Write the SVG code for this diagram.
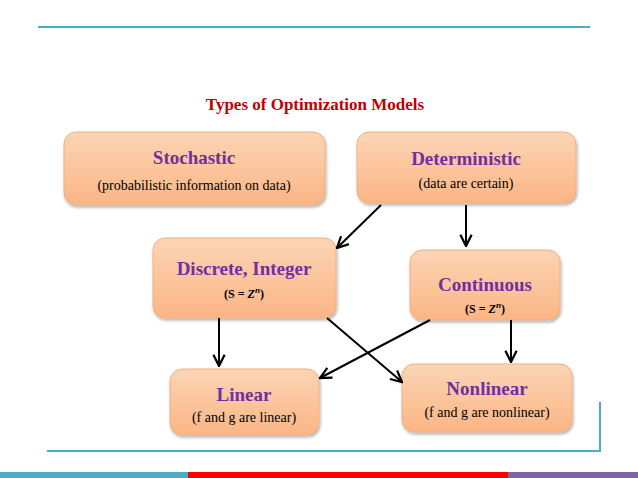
<svg xmlns="http://www.w3.org/2000/svg" width="638" height="478" viewBox="0 0 638 478">
<defs>
<linearGradient id="g" x1="0" y1="0" x2="0" y2="1"><stop offset="0" stop-color="#fcd5b5"/><stop offset="1" stop-color="#fbb585"/></linearGradient>
<marker id="a" viewBox="0 0 10 10" refX="9" refY="5" markerWidth="7" markerHeight="7" orient="auto"><path d="M1,1 L9,5 L1,9" fill="none" stroke="#000" stroke-width="1.6"/></marker>
<filter id="s" x="-10%" y="-10%" width="130%" height="130%"><feDropShadow dx="1" dy="2" stdDeviation="1.5" flood-opacity="0.3"/></filter>
</defs>
<style>
.b{fill:url(#g);stroke:#f0b080;stroke-width:1;filter:url(#s)}
.t{font-family:"Liberation Serif",serif;font-weight:bold;fill:#7030a0;font-size:19px;text-anchor:middle}
.s{font-family:"Liberation Serif",serif;fill:#000;font-size:14px;text-anchor:middle}
.sb{font-family:"Liberation Serif",serif;font-weight:bold;fill:#000;font-size:12px;text-anchor:middle}
.c line{stroke:#000;stroke-width:2;marker-end:url(#a)}
</style>
<rect width="638" height="478" fill="#fff"/>
<line x1="38" y1="27" x2="590" y2="27" stroke="#4bacc6" stroke-width="2"/>
<polyline points="47,451 600,451 600,402" fill="none" stroke="#4bacc6" stroke-width="2"/>
<rect x="0" y="472" width="188" height="6" fill="#4bacc6"/>
<rect x="188" y="472" width="320" height="6" fill="#ff0000"/>
<rect x="508" y="472" width="130" height="6" fill="#8064a2"/>
<text x="315" y="110" font-family="Liberation Serif,serif" font-weight="bold" font-size="17" fill="#c00000" text-anchor="middle">Types of Optimization Models</text>
<g id="stochastic"><rect class="b" x="64" y="132" width="261" height="73" rx="12"/><text class="t" x="194" y="164">Stochastic</text><text class="s" x="194" y="190">(probabilistic information on data)</text></g>
<g id="deterministic"><rect class="b" x="357" y="132" width="219" height="71" rx="12"/><text class="t" x="466" y="165">Deterministic</text><text class="s" x="466" y="188">(data are certain)</text></g>
<g id="discrete"><rect class="b" x="153" y="238" width="183" height="80" rx="12"/><text class="t" x="244" y="275">Discrete, Integer</text><text class="sb" x="244" y="298">(S = <tspan font-style="italic">Z</tspan><tspan font-style="italic" font-size="9" dy="-5">n</tspan><tspan dy="5">)</tspan></text></g>
<g id="continuous"><rect class="b" x="410" y="250" width="150" height="70" rx="12"/><text class="t" x="485" y="291">Continuous</text><text class="sb" x="485" y="313">(S = <tspan font-style="italic">Z</tspan><tspan font-style="italic" font-size="9" dy="-5">n</tspan><tspan dy="5">)</tspan></text></g>
<g id="linear"><rect class="b" x="170" y="369" width="149" height="66" rx="12"/><text class="t" x="244" y="401">Linear</text><text class="s" x="244" y="422">(f and g are linear)</text></g>
<g id="nonlinear"><rect class="b" x="402" y="364" width="170" height="68" rx="12"/><text class="t" x="487" y="395">Nonlinear</text><text class="s" x="487" y="417">(f and g are nonlinear)</text></g>
<g class="c" id="connectors">
<line x1="381" y1="205" x2="337" y2="248"/>
<line x1="466" y1="205" x2="466" y2="246"/>
<line x1="219" y1="318" x2="219" y2="366"/>
<line x1="511" y1="320" x2="511" y2="362"/>
<line x1="327" y1="318" x2="402" y2="382"/>
<line x1="430" y1="320" x2="320" y2="378"/>
</g>
</svg>
